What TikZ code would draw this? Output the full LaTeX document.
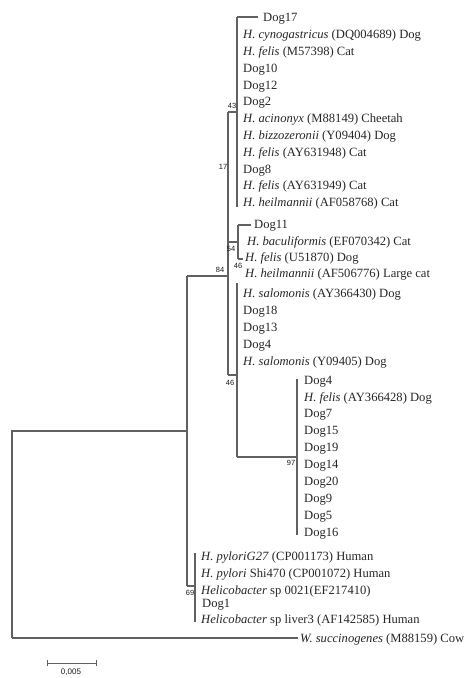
\documentclass[tikz,border=0pt]{standalone}
\usepackage{fontspec}
\setmainfont{Liberation Serif}
\newfontfamily\bootfont{Liberation Sans}
\usetikzlibrary{positioning, calc}

\begin{document}
\begin{tikzpicture}[x=1pt, y=-1pt]
	\tikzset{
		branch/.style={draw=black!62, line width=1.2pt},
		leaf/.style={anchor=base west, inner sep=0pt, font=\fontsize{12.6}{14}\selectfont, text=black!85},
		boot/.style={inner sep=0pt, font=\bootfont\fontsize{7.5}{8}\selectfont, text=black!90}
	}
	\useasboundingbox (0,0) rectangle (474,678);

	% tree junctions
	\coordinate (r) at (12,431);   \coordinate (rb) at (12,638);
	\coordinate (a) at (187,431);  \coordinate (at) at (187,276);  \coordinate (ab) at (187,586);
	\coordinate (b84) at (228,276); \coordinate (b84t) at (228,112); \coordinate (b84b) at (228,375);
	\coordinate (c43) at (237,112); \coordinate (c43t) at (237,17);  \coordinate (c43b) at (237,207);
	\coordinate (c54) at (238,242); \coordinate (c54t) at (238,225); \coordinate (c54b) at (238,259);
	\coordinate (d46) at (237,375); \coordinate (d46t) at (237,283); \coordinate (d46b) at (237,457);
	\coordinate (e97) at (297,457); \coordinate (e97t) at (297,379); \coordinate (e97b) at (297,535);
	\coordinate (f69) at (195,586); \coordinate (f69t) at (195,553); \coordinate (f69b) at (195,622);

	% leaves of cluster 43
	\node[leaf] (dog17) at (263,17+4) {Dog17};
	\foreach \y/\txt [count=\i] in {
		34/{\textit{H. cynogastricus} (DQ004689) Dog},
		51/{\textit{H. felis} (M57398) Cat},
		68/Dog10, 85/Dog12, 101/Dog2,
		118/{\textit{H. acinonyx} (M88149) Cheetah},
		135/{\textit{H. bizzozeronii} (Y09404) Dog},
		152/{\textit{H. felis} (AY631948) Cat},
		169/Dog8,
		185/{\textit{H. felis} (AY631949) Cat},
		202/{\textit{H. heilmannii} (AF058768) Cat}} {
		\node[leaf] (top\i) at (243,\y+4) {\txt};
	}

	% cluster 54 and the large cat
	\node[leaf] (dog11) at (254,224+4) {Dog11};
	\node[leaf] (bacu) at (247,241+4) {\textit{H. baculiformis} (EF070342) Cat};
	\node[leaf] (felisU) at (245,257+4) {\textit{H. felis} (U51870) Dog};
	\node[leaf] (heilL) at (245,273+4) {\textit{H. heilmannii} (AF506776) Large cat};

	% leaves of cluster 46
	\foreach \y/\txt [count=\i] in {
		293/{\textit{H. salomonis} (AY366430) Dog},
		310/Dog18, 327/Dog13, 344/Dog4,
		361/{\textit{H. salomonis} (Y09405) Dog}} {
		\node[leaf] (sal\i) at (243,\y+4) {\txt};
	}

	% leaves of cluster 97
	\foreach \y/\txt [count=\i] in {
		380/Dog4, 397/{\textit{H. felis} (AY366428) Dog}, 413/Dog7, 430/Dog15,
		447/Dog19, 464/Dog14, 481/Dog20, 498/Dog9, 515/Dog5, 532/Dog16} {
		\node[leaf] (dg\i) at (304,\y+4) {\txt};
	}

	% leaves of cluster 69
	\foreach \y/\txt [count=\i] in {
		556/{\textit{H. pyloriG27} (CP001173) Human},
		573/{\textit{H. pylori} Shi470 (CP001072) Human},
		590/{\textit{Helicobacter} sp 0021(EF217410)}} {
		\node[leaf] (pyl\i) at (201,\y+4) {\txt};
	}
	\node[leaf] (dog1) at (202,603+4) {Dog1};
	\node[leaf] (liver) at (201,619+4) {\textit{Helicobacter} sp liver3 (AF142585) Human};
	\node[leaf] (wsucc) at (300,638+4) {\textit{W. succinogenes} (M88159) Cow};

	% branches
	\draw[branch] (rb) -- (r) -- (a);
	\draw[branch] (at) -- (ab);
	\draw[branch] (at) -- (b84);
	\draw[branch] (b84t) -- (b84b);
	\draw[branch] (b84t) -- (c43);
	\draw[branch] (c43t) -- (c43b);
	\draw[branch] (c43t) -- ([xshift=-5pt]c43t -| dog17.west);
	\draw[branch] (b84 |- c54) -- (c54);
	\draw[branch] (c54t) -- (c54b);
	\draw[branch] (c54t) -- ([xshift=-3pt]c54t -| dog11.west);
	\draw[branch] (c54b) -- ([xshift=-2pt]c54b -| felisU.west);
	\draw[branch] (b84b) -- (d46);
	\draw[branch] (d46t) -- (d46b);
	\draw[branch] (d46b) -- (e97);
	\draw[branch] (e97t) -- (e97b);
	\draw[branch] (ab) -- (f69);
	\draw[branch] (f69t) -- (f69b);
	\draw[branch] (rb) -- ([xshift=-2pt]rb -| wsucc.west);

	% bootstrap values
	\node[boot] (bs43) at (232,106) {43};
	\node[boot] (bs17) at (223,167) {17};
	\node[boot] (bs54) at (231,249) {54};
	\node[boot] (bs46a) at (238,266) {46};
	\node[boot] (bs84) at (220,270) {84};
	\node[boot] (bs46b) at (230,383) {46};
	\node[boot] (bs97) at (291,463) {97};
	\node[boot] (bs69) at (190,593) {69};

	% scale bar
	\coordinate (sbl) at (47,663);
	\coordinate (sbr) at (96,663);
	\draw[branch, line width=1pt] (sbl) -- (sbr);
	\draw[branch, line width=1pt] ([yshift=-3pt]sbl) -- ([yshift=3pt]sbl);
	\draw[branch, line width=1pt] ([yshift=-3pt]sbr) -- ([yshift=3pt]sbr);
	\node[boot, font=\bootfont\fontsize{8}{9}\selectfont] (sblab) at (71,672) {0,005};
\end{tikzpicture}
\end{document}
